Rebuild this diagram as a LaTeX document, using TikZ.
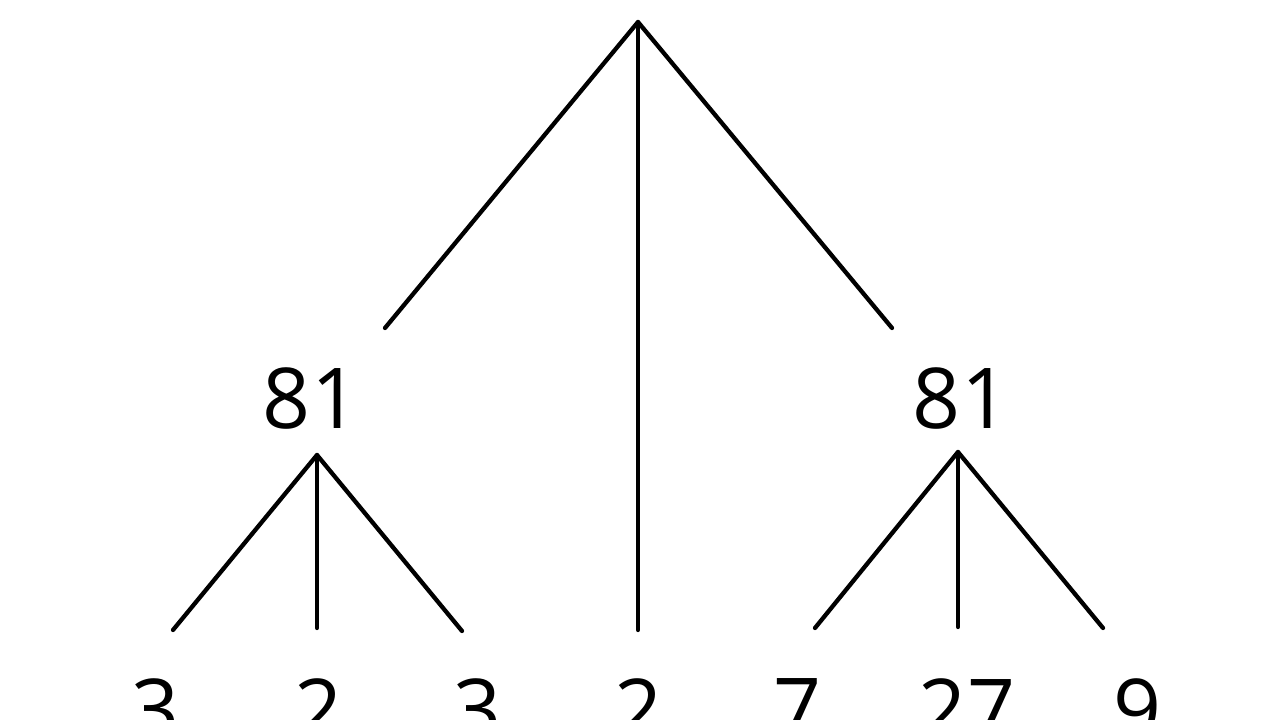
\documentclass[tikz,border=0pt]{standalone}
\usepackage{fontspec}
\setmainfont{Open Sans}
\begin{document}
\begin{tikzpicture}[x=1pt,y=-1pt,
  num/.style={inner sep=0pt,font=\fontsize{84}{90}\selectfont},
  branch/.style={line width=4.3pt,line cap=round,line join=round}]
\useasboundingbox[fill=white] (0,0) rectangle (1280,720);
% top
\coordinate (top) at (638,22);
\coordinate (tl) at (385,328);
\coordinate (tm) at (638,630);
\coordinate (tr) at (892,328);
\draw[branch] (tl) -- (top) -- (tr);
\draw[branch] (top) -- (tm);
% left 81
\node[num] (l81) at (311,398) {81};
\coordinate (la) at (317,455);
\coordinate (l1) at (173,630);
\coordinate (l2) at (317,628);
\coordinate (l3) at (462,631);
\draw[branch] (l1) -- (la) -- (l3);
\draw[branch] (la) -- (l2);
% right 81
\node[num] (r81) at (961,398) {81};
\coordinate (ra) at (958,452);
\coordinate (r1) at (815,628);
\coordinate (r2) at (958,627);
\coordinate (r3) at (1103,628);
\draw[branch] (r1) -- (ra) -- (r3);
\draw[branch] (ra) -- (r2);
% bottom numbers
\node[num] (b1) at (156,709) {3};
\node[num] (b2) at (319,709) {2};
\node[num] (b3) at (478,709) {3};
\node[num] (b4) at (639,709) {2};
\node[num] (b5) at (798,709) {7};
\node[num] (b6) at (967,709) {27};
\node[num] (b7) at (1138,709) {9};
\end{tikzpicture}
\end{document}
